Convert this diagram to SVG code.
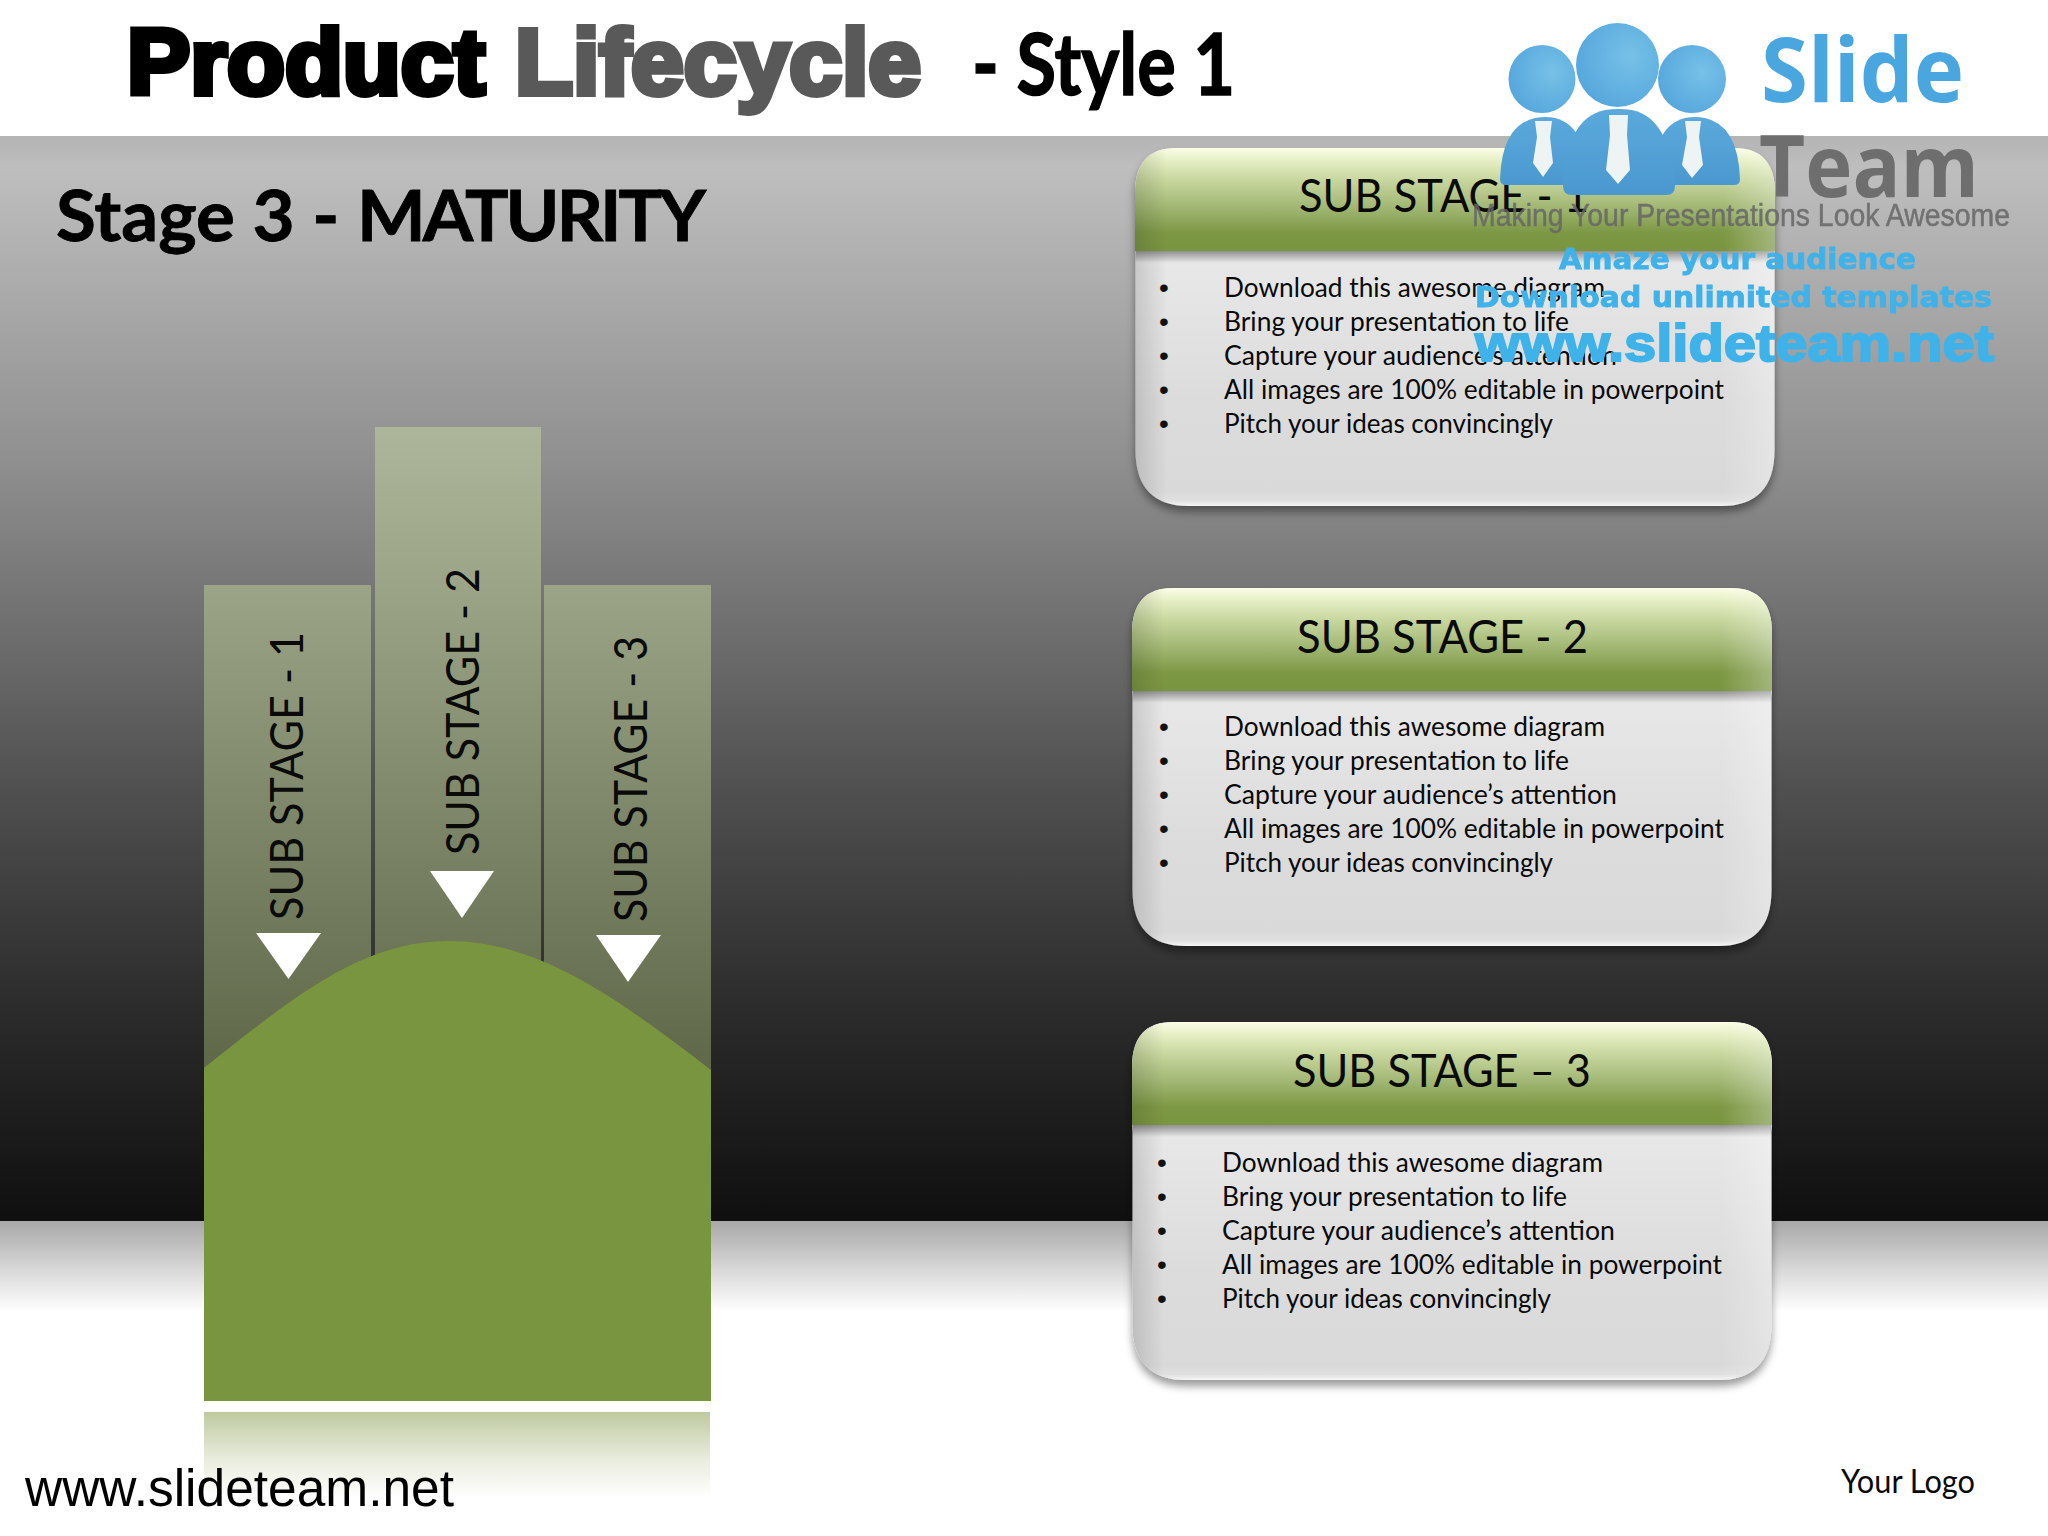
<svg xmlns="http://www.w3.org/2000/svg" width="2048" height="1536" viewBox="0 0 2048 1536">
<style>
.cal{font-family:"Lato","Open Sans",sans-serif;fill:#0a0a0a}
.ct{font-size:47px}
.li{font-size:27px}
.st{font-size:47px}
.bl{font-family:"Liberation Sans",sans-serif;font-size:28px;fill:#111}
.wb{font-family:"DejaVu Sans",sans-serif;font-weight:bold;fill:#3fb2ea;stroke:#3fb2ea;stroke-width:.8px}
.tie{fill:#eef3f4}
.bd{fill:url(#wbd)}
.hd{fill:url(#whd)}
</style>
<defs>
<linearGradient id="bg" x1="0" y1="136" x2="0" y2="1221" gradientUnits="userSpaceOnUse">
<stop offset="0" stop-color="#b4b4b4"/><stop offset=".03" stop-color="#bebebe"/><stop offset=".3" stop-color="#8f8f8f"/><stop offset=".6" stop-color="#505050"/><stop offset=".8" stop-color="#2c2c2c"/><stop offset="1" stop-color="#0f0f0f"/>
</linearGradient>
<linearGradient id="fl" x1="0" y1="0" x2="0" y2="1"><stop offset="0" stop-color="#a8a8a8"/><stop offset=".5" stop-color="#d4d4d4"/><stop offset="1" stop-color="#fff"/></linearGradient>
<linearGradient id="bar" x1="0" y1="427" x2="0" y2="1066" gradientUnits="userSpaceOnUse">
<stop offset="0" stop-color="#adb69a"/><stop offset=".25" stop-color="#9ca487"/><stop offset=".6" stop-color="#7e8769"/><stop offset="1" stop-color="#5f694a"/>
</linearGradient>
<linearGradient id="ref" x1="0" y1="0" x2="0" y2="1"><stop offset="0" stop-color="#bfcaa0"/><stop offset=".55" stop-color="#e8ecdc"/><stop offset="1" stop-color="#fff"/></linearGradient>
<linearGradient id="hdr" x1="0" y1="0" x2="0" y2="1"><stop offset="0" stop-color="#fbfde6"/><stop offset=".13" stop-color="#e5eec3"/><stop offset=".3" stop-color="#c9d8a0"/><stop offset=".55" stop-color="#a5ba78"/><stop offset=".82" stop-color="#7d9845"/><stop offset="1" stop-color="#7a953f"/></linearGradient>
<linearGradient id="bdy" x1="0" y1="0" x2="0" y2="1"><stop offset="0" stop-color="#e8e8e8"/><stop offset=".3" stop-color="#e8e8e8"/><stop offset=".7" stop-color="#dcdcdc"/><stop offset=".96" stop-color="#d9d9d9"/><stop offset=".985" stop-color="#e0e0e0"/><stop offset="1" stop-color="#f6f6f6"/></linearGradient>
<linearGradient id="side" x1="0" y1="0" x2="1" y2="0"><stop offset="0" stop-color="#000" stop-opacity=".13"/><stop offset=".05" stop-color="#000" stop-opacity="0"/><stop offset=".92" stop-color="#fff" stop-opacity="0"/><stop offset="1" stop-color="#fff" stop-opacity=".3"/></linearGradient>
<linearGradient id="hs" x1="0" y1="0" x2="0" y2="1"><stop offset="0" stop-color="#000" stop-opacity=".38"/><stop offset="1" stop-color="#000" stop-opacity="0"/></linearGradient>
<radialGradient id="whd" cx=".65" cy=".4" r=".7"><stop offset="0" stop-color="#76c1e8"/><stop offset="1" stop-color="#55a6dc"/></radialGradient>
<linearGradient id="wbd" x1="0" y1="0" x2="0" y2="1"><stop offset="0" stop-color="#5ba9dc"/><stop offset="1" stop-color="#4a98cf"/></linearGradient>
<filter id="sh" x="-5%" y="-5%" width="110%" height="115%"><feDropShadow dx="0" dy="6" stdDeviation="4" flood-color="#000" flood-opacity=".4"/></filter>
<filter id="soft" x="-2%" y="-2%" width="104%" height="104%"><feGaussianBlur stdDeviation=".7"/></filter>
<path id="outline" d="M0 103V45Q0 0 41 0H599Q640 0 640 45V103L639.500 110V302Q639.500 358 586 358H54Q.5 358 .5 302V110Z"/>
<g id="card">
<use href="#outline" fill="url(#bdy)" filter="url(#sh)"/>
<path d="M0 103V45Q0 0 41 0H599Q640 0 640 45V103Z" fill="url(#hdr)"/>
<rect x=".5" y="103" width="639" height="12" fill="url(#hs)"/>
<use href="#outline" fill="url(#side)"/>
</g>
</defs>
<rect id="page" width="2048" height="1536" fill="#fff"/>
<rect id="backdrop" y="136" width="2048" height="1085" fill="url(#bg)"/>
<rect id="floor" y="1221" width="2048" height="90" fill="url(#fl)"/>

<g id="title">
<text x="127" y="94" font-family="Liberation Sans,sans-serif" font-weight="bold" font-size="92" fill="#000" stroke="#000" stroke-width="6" textLength="358" lengthAdjust="spacingAndGlyphs">Product</text>
<text x="515" y="94" font-family="Liberation Sans,sans-serif" font-weight="bold" font-size="92" fill="#595959" stroke="#595959" stroke-width="6" textLength="406" lengthAdjust="spacingAndGlyphs">Lifecycle</text>
<text x="972" y="95" font-family="Lato,sans-serif" font-weight="bold" font-size="86" fill="#000" stroke="#000" stroke-width="1.500" textLength="263" lengthAdjust="spacingAndGlyphs">- Style 1</text>
</g>
<text id="stage-title" x="56" y="241" font-family="Lato,sans-serif" font-weight="bold" font-size="70" fill="#000" stroke="#000" stroke-width=".8" textLength="647" lengthAdjust="spacingAndGlyphs">Stage 3 - <tspan letter-spacing="-3">MATURITY</tspan></text>

<g id="bars">
<g id="bar-1"><rect x="204" y="585" width="167" height="600" fill="url(#bar)"/><text class="cal st" transform="translate(303 920) rotate(-90)" textLength="288" lengthAdjust="spacingAndGlyphs">SUB STAGE - 1</text></g>
<g id="bar-2"><rect x="375" y="427" width="166" height="700" fill="url(#bar)"/><text class="cal st" transform="translate(479 855) rotate(-90)" textLength="287" lengthAdjust="spacingAndGlyphs">SUB STAGE - 2</text></g>
<g id="bar-3"><rect x="544" y="585" width="167" height="600" fill="url(#bar)"/><text class="cal st" transform="translate(647 922) rotate(-90)" textLength="286" lengthAdjust="spacingAndGlyphs">SUB STAGE - 3</text></g>
</g>
<path id="bell" d="M204 1068C290 1000 360 941 448 941C540 941 620 1000 711 1070V1401H204Z" fill="#7a953f"/>
<rect id="bell-reflection" x="204" y="1412" width="506" height="85" fill="url(#ref)"/>

<g id="connectors" fill="#fff">
<polygon points="256,933 321,933 288.500,979"/>
<polygon points="430,871 494,871 462,918"/>
<polygon points="596,935 661,935 628,982"/>
</g>

<g id="card-1">
<use href="#card" x="1135" y="148"/>
<text class="cal ct" x="1299" y="212" textLength="290" lengthAdjust="spacingAndGlyphs">SUB STAGE - 1</text>
<g class="bl"><text x="1159" y="297">•</text><text x="1159" y="331">•</text><text x="1159" y="365">•</text><text x="1159" y="399">•</text><text x="1159" y="433">•</text></g>
<text class="cal li" x="1224" y="297" textLength="381" lengthAdjust="spacingAndGlyphs">Download this awesome diagram</text>
<text class="cal li" x="1224" y="331" textLength="345" lengthAdjust="spacingAndGlyphs">Bring your presentation to life</text>
<text class="cal li" x="1224" y="365" textLength="393" lengthAdjust="spacingAndGlyphs">Capture your audience’s attention</text>
<text class="cal li" x="1224" y="399" textLength="500" lengthAdjust="spacingAndGlyphs">All images are 100% editable in powerpoint</text>
<text class="cal li" x="1224" y="433" textLength="329" lengthAdjust="spacingAndGlyphs">Pitch your ideas convincingly</text>
</g>
<g id="card-2">
<use href="#card" x="1132" y="588"/>
<text class="cal ct" x="1297" y="653" textLength="291" lengthAdjust="spacingAndGlyphs">SUB STAGE - 2</text>
<g class="bl"><text x="1159" y="736">•</text><text x="1159" y="770">•</text><text x="1159" y="804">•</text><text x="1159" y="838">•</text><text x="1159" y="872">•</text></g>
<text class="cal li" x="1224" y="736" textLength="381" lengthAdjust="spacingAndGlyphs">Download this awesome diagram</text>
<text class="cal li" x="1224" y="770" textLength="345" lengthAdjust="spacingAndGlyphs">Bring your presentation to life</text>
<text class="cal li" x="1224" y="804" textLength="393" lengthAdjust="spacingAndGlyphs">Capture your audience’s attention</text>
<text class="cal li" x="1224" y="838" textLength="500" lengthAdjust="spacingAndGlyphs">All images are 100% editable in powerpoint</text>
<text class="cal li" x="1224" y="872" textLength="329" lengthAdjust="spacingAndGlyphs">Pitch your ideas convincingly</text>
</g>
<g id="card-3">
<use href="#card" x="1132" y="1022"/>
<text class="cal ct" x="1293" y="1087" textLength="298" lengthAdjust="spacingAndGlyphs">SUB STAGE – 3</text>
<g class="bl"><text x="1157" y="1172">•</text><text x="1157" y="1206">•</text><text x="1157" y="1240">•</text><text x="1157" y="1274">•</text><text x="1157" y="1308">•</text></g>
<text class="cal li" x="1222" y="1172" textLength="381" lengthAdjust="spacingAndGlyphs">Download this awesome diagram</text>
<text class="cal li" x="1222" y="1206" textLength="345" lengthAdjust="spacingAndGlyphs">Bring your presentation to life</text>
<text class="cal li" x="1222" y="1240" textLength="393" lengthAdjust="spacingAndGlyphs">Capture your audience’s attention</text>
<text class="cal li" x="1222" y="1274" textLength="500" lengthAdjust="spacingAndGlyphs">All images are 100% editable in powerpoint</text>
<text class="cal li" x="1222" y="1308" textLength="329" lengthAdjust="spacingAndGlyphs">Pitch your ideas convincingly</text>
</g>

<text id="footer-url" x="25" y="1506" font-family="Liberation Sans,sans-serif" font-size="51" fill="#000" textLength="429" lengthAdjust="spacingAndGlyphs">www.slideteam.net</text>
<text id="your-logo" class="cal" x="1841" y="1493" font-size="32" textLength="134" lengthAdjust="spacingAndGlyphs">Your Logo</text>

<g id="watermark" filter="url(#soft)">
<g id="people">
<ellipse class="hd" cx="1542" cy="79" rx="33.500" ry="34"/>
<ellipse class="hd" cx="1692" cy="79" rx="34" ry="34"/>
<path class="bd" d="M1500 179Q1502 125 1535 118Q1545 116 1555 118Q1572 122 1580 140L1578 185H1506Q1500 185 1500 179Z"/>
<path class="bd" d="M1740 179Q1738 125 1705 118Q1695 116 1685 118Q1668 122 1660 140L1662 185H1734Q1740 185 1740 179Z"/>
<ellipse class="hd" cx="1617.500" cy="65" rx="41.500" ry="42"/>
<path class="bd" d="M1563 186Q1566 118 1605 110Q1618 108 1632 110Q1670 118 1675 186Q1675 195 1666 195H1572Q1563 195 1563 186Z"/>
<polygon class="tie" points="1609,115 1628,115 1627,135 1630,170 1618,184 1606,170 1610,135"/>
<polygon class="tie" points="1535,121 1552,121 1550,137 1553,163 1543,177 1533,163 1537,137"/>
<polygon class="tie" points="1685,121 1701,121 1699,137 1703,165 1692,178 1682,165 1687,137"/>
</g>
<text x="1761" y="102" font-family="Open Sans,sans-serif" font-weight="bold" font-size="90" fill="#4aa6de" textLength="203" lengthAdjust="spacingAndGlyphs">Slide</text>
<text x="1759" y="197" font-family="Open Sans,sans-serif" font-weight="bold" font-size="86" fill="#6e6e6e" textLength="220" lengthAdjust="spacingAndGlyphs">Team</text>
<text x="1472" y="226" font-family="Liberation Sans,sans-serif" font-size="31" fill="#666" stroke="#666" stroke-width=".5" opacity=".85" textLength="538" lengthAdjust="spacingAndGlyphs">Making Your Presentations Look Awesome</text>
<text class="wb" x="1559" y="269" font-size="28" textLength="357" lengthAdjust="spacingAndGlyphs">Amaze your audience</text>
<text class="wb" x="1475" y="307" font-size="29" textLength="517" lengthAdjust="spacingAndGlyphs">Download unlimited templates</text>
<text class="wb" x="1475" y="361" font-size="52" textLength="519" lengthAdjust="spacingAndGlyphs" style="font-family:'Liberation Sans',sans-serif;stroke-width:2px">www.slideteam.net</text>
</g>
</svg>
